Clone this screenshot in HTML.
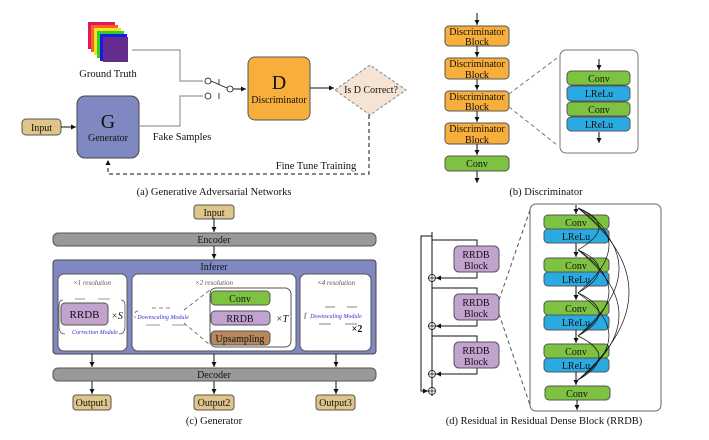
<!DOCTYPE html>
<html><head><meta charset="utf-8"><style>
body{margin:0;background:#fff}
svg{display:block}
text{font-family:"Liberation Serif",serif;font-size:10px;fill:#111;text-anchor:middle}
.b{font-weight:normal;font-size:10.5px}
.s{font-size:7px;font-style:italic;fill:#555}
.bl{font-size:6px;font-style:italic;fill:#33c}
</style></head><body>
<svg width="709" height="440" viewBox="0 0 709 440" xmlns="http://www.w3.org/2000/svg">
<defs>
<marker id="a" markerWidth="6" markerHeight="6" refX="5" refY="3" orient="auto"><path d="M0,0.5 L5,3 L0,5.5z" fill="#111"/></marker>
</defs>
<!-- (a) -->
<g>
<rect x="88" y="22" width="27" height="27" fill="#e0195a"/>
<rect x="91" y="25" width="27" height="27" fill="#f26522"/>
<rect x="94" y="28" width="27" height="27" fill="#f7e11a"/>
<rect x="97" y="31" width="27" height="27" fill="#2bd12b"/>
<rect x="100" y="34" width="27" height="27" fill="#1a1ae6"/>
<rect x="103" y="37" width="25" height="25" fill="#662d91"/>
<text x="108" y="77" class="b">Ground Truth</text>
<rect x="22" y="119" width="39" height="16" rx="4" fill="#dfc589" stroke="#555"/>
<text x="41.5" y="131">Input</text>
<line x1="61" y1="127" x2="76" y2="127" stroke="#111" marker-end="url(#a)"/>
<rect x="77" y="96" width="62" height="62" rx="8" fill="#8088c2" stroke="#444"/>
<text x="108" y="128" style="font-size:20px">G</text>
<text x="108" y="141">Generator</text>
<polyline points="132,50 180,50 180,81 203,81" fill="none" stroke="#999" stroke-width="1.2"/>
<polyline points="139,126 180,126 180,96 203,96" fill="none" stroke="#999" stroke-width="1.2"/>
<circle cx="208" cy="81" r="3" fill="#fff" stroke="#111" stroke-width=".8"/>
<circle cx="208" cy="96" r="3" fill="#fff" stroke="#111" stroke-width=".8"/>
<circle cx="230" cy="89" r="3" fill="#fff" stroke="#111" stroke-width=".8"/>
<line x1="211" y1="81" x2="227" y2="88" stroke="#111" stroke-width=".8"/>
<line x1="219" y1="79" x2="219" y2="84" stroke="#111" stroke-width=".8"/>
<line x1="219" y1="93" x2="219" y2="99" stroke="#111" stroke-width=".8"/>
<line x1="233" y1="89" x2="246" y2="89" stroke="#111" marker-end="url(#a)"/>
<rect x="248" y="57" width="62" height="63" rx="7" fill="#f8ae3b" stroke="#555"/>
<text x="279" y="89" style="font-size:20px">D</text>
<text x="279" y="103">Discriminator</text>
<line x1="310" y1="88" x2="334" y2="88" stroke="#111" marker-end="url(#a)"/>
<polygon points="335,90 370,65 406,90 370,115" fill="#f5e3d3" stroke="#888" stroke-dasharray="3,2"/>
<text x="371" y="93">Is D Correct?</text>
<polyline points="369,115 369,174 108,174 108,160" fill="none" stroke="#111" stroke-dasharray="4,3" marker-end="url(#a)"/>
<text x="316" y="169" class="b">Fine Tune Training</text>
<text x="182" y="140" class="b">Fake Samples</text>
<text x="214" y="195" class="b">(a) Generative Adversarial Networks</text>
</g>
<!-- (b) -->
<g>
<line x1="477" y1="13" x2="477" y2="25" stroke="#111" marker-end="url(#a)"/>
<g fill="#f8ae3b" stroke="#555">
<rect x="445" y="26" width="64" height="20" rx="4"/>
<rect x="445" y="58" width="64" height="21" rx="4"/>
<rect x="445" y="91" width="64" height="20" rx="4"/>
<rect x="445" y="123" width="64" height="21" rx="4"/>
</g>
<rect x="445" y="156" width="64" height="15" rx="4" fill="#7dc241" stroke="#555"/>
<text x="477" y="35">Discriminator</text><text x="477" y="45">Block</text>
<text x="477" y="67">Discriminator</text><text x="477" y="78">Block</text>
<text x="477" y="100">Discriminator</text><text x="477" y="110">Block</text>
<text x="477" y="132">Discriminator</text><text x="477" y="143">Block</text>
<text x="477" y="167">Conv</text>
<g stroke="#111">
<line x1="477" y1="46" x2="477" y2="57" marker-end="url(#a)"/>
<line x1="477" y1="79" x2="477" y2="90" marker-end="url(#a)"/>
<line x1="477" y1="111" x2="477" y2="122" marker-end="url(#a)"/>
<line x1="477" y1="144" x2="477" y2="155" marker-end="url(#a)"/>
<line x1="477" y1="171" x2="477" y2="183" marker-end="url(#a)"/>
</g>
<line x1="509" y1="94" x2="557" y2="58" stroke="#777" stroke-dasharray="4,3"/>
<line x1="509" y1="107" x2="557" y2="145" stroke="#777" stroke-dasharray="4,3"/>
<rect x="560" y="50" width="78" height="103" rx="6" fill="#fff" stroke="#777"/>
<line x1="599" y1="59" x2="599" y2="70" stroke="#111" marker-end="url(#a)"/>
<rect x="567" y="71" width="63" height="14" rx="4" fill="#7dc241" stroke="#555"/>
<rect x="567" y="86" width="63" height="15" rx="4" fill="#29abe2" stroke="#555"/>
<rect x="567" y="102" width="63" height="14" rx="4" fill="#7dc241" stroke="#555"/>
<rect x="567" y="117" width="63" height="14" rx="4" fill="#29abe2" stroke="#555"/>
<text x="599" y="82">Conv</text><text x="599" y="97">LReLu</text>
<text x="599" y="113">Conv</text><text x="599" y="128">LReLu</text>
<line x1="599" y1="132" x2="599" y2="143" stroke="#111" marker-end="url(#a)"/>
<text x="546" y="195" class="b">(b) Discriminator</text>
</g>
<!-- (c) -->
<g>
<rect x="194" y="205" width="40" height="14" rx="3" fill="#dfc589" stroke="#555"/>
<text x="214" y="216">Input</text>
<line x1="214" y1="219" x2="214" y2="232" stroke="#111" marker-end="url(#a)"/>
<rect x="53" y="233" width="323" height="13" rx="5" fill="#999" stroke="#555"/>
<text x="214" y="243">Encoder</text>
<line x1="214" y1="246" x2="214" y2="259" stroke="#111" marker-end="url(#a)"/>
<rect x="53" y="260" width="323" height="94" rx="3" fill="#8088c2" stroke="#444"/>
<text x="214" y="270">Inferer</text>
<rect x="58" y="274" width="69" height="77" rx="6" fill="#fff" stroke="#555"/>
<rect x="132" y="274" width="164" height="77" rx="6" fill="#fff" stroke="#555"/>
<rect x="300" y="274" width="71" height="77" rx="6" fill="#fff" stroke="#555"/>
<text x="92" y="285" class="s">×1 resolution</text>
<text x="214" y="285" class="s">×2 resolution</text>
<text x="336" y="285" class="s">×4 resolution</text>
<path d="M63,300 q-4,0 -4,6 v20 q0,8 6,8 M121,300 q4,0 4,6 v20 q0,8 -6,8" fill="none" stroke="#555" stroke-width=".8"/>
<line x1="75" y1="299" x2="85" y2="299" stroke="#999"/><line x1="98" y1="299" x2="110" y2="299" stroke="#999"/>
<rect x="61" y="303" width="47" height="22" rx="4" fill="#c3a2cf" stroke="#555"/>
<text x="84.5" y="318" style="font-size:11px">RRDB</text>
<text x="117" y="319" style="font-style:italic">×S</text>
<text x="95" y="334" class="bl">Correction Module</text>
<path d="M138,311 q-3,0 -3,3 v4 M152,308 h20 M184,310 l26,-20 M184,323 l26,22" fill="none" stroke="#555" stroke-width=".8" stroke-dasharray="4,3"/>
<line x1="146" y1="325" x2="160" y2="325" stroke="#999"/><line x1="172" y1="325" x2="186" y2="325" stroke="#999"/>
<text x="163" y="319" class="bl">Downscaling Module</text>
<rect x="210" y="288" width="81" height="59" rx="6" fill="#fff" stroke="#555"/>
<rect x="211" y="291" width="59" height="14" rx="4" fill="#7dc241" stroke="#555"/>
<rect x="211" y="311" width="59" height="14" rx="4" fill="#c3a2cf" stroke="#555"/>
<rect x="211" y="331" width="59" height="14" rx="4" fill="#b8875b" stroke="#555"/>
<text x="240" y="302">Conv</text><text x="240" y="322">RRDB</text><text x="240" y="342">Upsampling</text>
<text x="282" y="322" style="font-style:italic">×T</text>
<path d="M307,313 q-2,0 -2,3 v3 M325,307 h10 M347,307 h10 M319,324 h12 M345,324 h12" fill="none" stroke="#555" stroke-width=".8"/>
<text x="336" y="318" class="bl">Downscaling Module</text>
<text x="357" y="332" style="font-weight:bold">×2</text>
<g stroke="#111">
<line x1="92" y1="354" x2="92" y2="367" marker-end="url(#a)"/>
<line x1="214" y1="354" x2="214" y2="367" marker-end="url(#a)"/>
<line x1="336" y1="354" x2="336" y2="367" marker-end="url(#a)"/>
<line x1="92" y1="381" x2="92" y2="394" marker-end="url(#a)"/>
<line x1="214" y1="381" x2="214" y2="394" marker-end="url(#a)"/>
<line x1="336" y1="381" x2="336" y2="394" marker-end="url(#a)"/>
</g>
<rect x="53" y="368" width="323" height="13" rx="5" fill="#999" stroke="#555"/>
<text x="214" y="378">Decoder</text>
<rect x="73" y="395" width="38" height="15" rx="3" fill="#dfc589" stroke="#555"/>
<rect x="194" y="395" width="40" height="15" rx="3" fill="#dfc589" stroke="#555"/>
<rect x="316" y="395" width="39" height="15" rx="3" fill="#dfc589" stroke="#555"/>
<text x="92" y="406">Output1</text><text x="214" y="406">Output2</text><text x="335.5" y="406">Output3</text>
<text x="214" y="424" class="b">(c) Generator</text>
</g>
<!-- (d) -->
<g>
<g fill="none" stroke="#111">
<line x1="432" y1="232" x2="432" y2="396"/>
<polyline points="432,236 421,236 421,391 428,391" marker-end="url(#a)"/>
<polyline points="432,240 477,240 477,246"/><polyline points="477,272 477,278 436,278" marker-end="url(#a)"/>
<polyline points="432,288 477,288 477,294"/><polyline points="477,320 477,326 436,326" marker-end="url(#a)"/>
<polyline points="432,336 477,336 477,342"/><polyline points="477,368 477,374 436,374" marker-end="url(#a)"/>
</g>
<g fill="#fff" stroke="#111" stroke-width=".8">
<circle cx="432" cy="278" r="3.5"/><circle cx="432" cy="326" r="3.5"/><circle cx="432" cy="374" r="3.5"/><circle cx="432" cy="391" r="3.5"/>
</g>
<path d="M428,278h8M432,274v8M428,326h8M432,322v8M428,374h8M432,370v8M428,391h8M432,387v8" stroke="#111" stroke-width=".7"/>
<g fill="#c3a2cf" stroke="#555">
<rect x="454" y="246" width="45" height="26" rx="5"/>
<rect x="454" y="294" width="45" height="26" rx="5"/>
<rect x="454" y="342" width="45" height="26" rx="5"/>
</g>
<text x="476" y="258">RRDB</text><text x="476" y="269">Block</text>
<text x="476" y="306">RRDB</text><text x="476" y="317">Block</text>
<text x="476" y="354">RRDB</text><text x="476" y="365">Block</text>
<line x1="499" y1="300" x2="530" y2="210" stroke="#555" stroke-dasharray="4,3"/>
<line x1="499" y1="314" x2="530" y2="405" stroke="#555" stroke-dasharray="4,3"/>
<rect x="530" y="204" width="131" height="207" rx="6" fill="#fff" stroke="#666"/>
<g fill="#7dc241" stroke="#555">
<rect x="544" y="215" width="65" height="14" rx="4"/><rect x="544" y="258" width="65" height="14" rx="4"/>
<rect x="544" y="301" width="65" height="14" rx="4"/><rect x="544" y="344" width="65" height="14" rx="4"/>
<rect x="545" y="386" width="65" height="14" rx="4"/>
</g>
<g fill="#29abe2" stroke="#555">
<rect x="544" y="229" width="65" height="14" rx="4"/><rect x="544" y="272" width="65" height="14" rx="4"/>
<rect x="544" y="315" width="65" height="15" rx="4"/><rect x="544" y="358" width="65" height="14" rx="4"/>
</g>
<text x="576" y="226">Conv</text><text x="576" y="240">LReLu</text>
<text x="576" y="269">Conv</text><text x="576" y="283">LReLu</text>
<text x="576" y="312">Conv</text><text x="576" y="326">LReLu</text>
<text x="576" y="355">Conv</text><text x="576" y="369">LReLu</text>
<text x="577" y="397">Conv</text>
<g stroke="#111" fill="none">
<line x1="576" y1="205" x2="576" y2="214" marker-end="url(#a)"/>
<line x1="576" y1="243" x2="576" y2="257" marker-end="url(#a)"/>
<line x1="576" y1="286" x2="576" y2="300" marker-end="url(#a)"/>
<line x1="576" y1="330" x2="576" y2="343" marker-end="url(#a)"/>
<line x1="576" y1="372" x2="576" y2="385" marker-end="url(#a)"/>
<line x1="577" y1="400" x2="577" y2="410" marker-end="url(#a)"/>
<g stroke-width=".7">
<path d="M578,208 Q620,225 578,250"/><path d="M578,208 Q640,240 578,293"/><path d="M578,208 Q660,265 578,336"/><path d="M578,208 Q680,290 578,380"/>
<path d="M578,250 Q620,268 578,293"/><path d="M578,250 Q640,290 578,336"/><path d="M578,250 Q660,315 578,380"/>
<path d="M578,293 Q620,312 578,336"/><path d="M578,293 Q640,335 578,380"/>
<path d="M578,336 Q620,356 578,380"/>
</g>
</g>
<text x="544" y="424" class="b">(d) Residual in Residual Dense Block (RRDB)</text>
</g>
</svg>
</body></html>
